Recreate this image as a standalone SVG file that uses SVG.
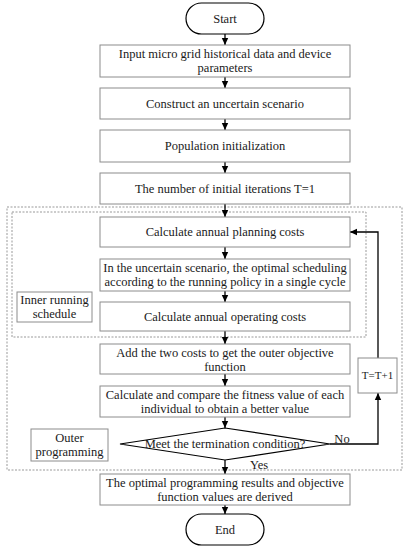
<svg xmlns="http://www.w3.org/2000/svg" width="408" height="550" viewBox="0 0 408 550">
<style>
.b{fill:#fff;stroke:#8c8c8c;stroke-width:1}
.t{fill:#fff;stroke:#000;stroke-width:1.2}
.d{fill:none;stroke:#999;stroke-width:1;stroke-dasharray:2,1.5}
.c{fill:none;stroke:#000;stroke-width:1.3}
text{font-family:"Liberation Serif","DejaVu Serif",serif;font-size:12.5px;fill:#1a1a1a;text-anchor:middle}
</style>
<defs>
<marker id="a" markerWidth="8" markerHeight="8" refX="7" refY="4" orient="auto" markerUnits="userSpaceOnUse">
<path d="M0,0.8 L7,4 L0,7.2 Z" fill="#000"/>
</marker>
</defs>
<rect class="d" x="7" y="207" width="395" height="263"/>
<rect class="d" x="12" y="212" width="354" height="125"/>
<g id="connectors">
<line class="c" x1="225" y1="34" x2="225" y2="45" marker-end="url(#a)"/>
<line class="c" x1="225" y1="77" x2="225" y2="88" marker-end="url(#a)"/>
<line class="c" x1="225" y1="119" x2="225" y2="130" marker-end="url(#a)"/>
<line class="c" x1="225" y1="162" x2="225" y2="173" marker-end="url(#a)"/>
<line class="c" x1="225" y1="204" x2="225" y2="217" marker-end="url(#a)"/>
<line class="c" x1="225" y1="247" x2="225" y2="259" marker-end="url(#a)"/>
<line class="c" x1="225" y1="291" x2="225" y2="302" marker-end="url(#a)"/>
<line class="c" x1="225" y1="331" x2="225" y2="344" marker-end="url(#a)"/>
<line class="c" x1="225" y1="374" x2="225" y2="386" marker-end="url(#a)"/>
<line class="c" x1="225" y1="417" x2="225" y2="428" marker-end="url(#a)"/>
<line class="c" x1="225" y1="460" x2="225" y2="474" marker-end="url(#a)"/>
<line class="c" x1="225" y1="505" x2="225" y2="514" marker-end="url(#a)"/>
<polyline class="c" points="330,444 378,444 378,393" marker-end="url(#a)"/>
<polyline class="c" points="378,358 378,232 350,232" marker-end="url(#a)"/>
<text x="342" y="443">No</text>
<text x="259" y="469">Yes</text>
</g>
<g id="start"><rect class="t" x="186" y="3" width="78" height="31" rx="15.5"/><text x="225" y="23">Start</text></g>
<g id="n1"><rect class="b" x="100" y="45" width="250" height="32"/><text x="225" y="58">Input micro grid historical data and device</text><text x="225" y="72">parameters</text></g>
<g id="n2"><rect class="b" x="100" y="88" width="250" height="31"/><text x="225" y="108">Construct an uncertain scenario</text></g>
<g id="n3"><rect class="b" x="100" y="130" width="250" height="32"/><text x="225" y="150">Population initialization</text></g>
<g id="n4"><rect class="b" x="100" y="173" width="250" height="31"/><text x="225" y="193">The number of initial iterations T=1</text></g>
<g id="n5"><rect class="b" x="100" y="217" width="250" height="30"/><text x="225" y="236">Calculate annual planning costs</text></g>
<g id="n6"><rect class="b" x="100" y="259" width="250" height="32"/><text x="225" y="272">In the uncertain scenario, the optimal scheduling</text><text x="225" y="286">according to the running policy in a single cycle</text></g>
<g id="n7"><rect class="b" x="100" y="302" width="250" height="29"/><text x="225" y="321">Calculate annual operating costs</text></g>
<g id="inner"><rect class="b" x="17" y="292" width="75" height="30"/><text x="54.5" y="304">Inner running</text><text x="54.5" y="318">schedule</text></g>
<g id="n8"><rect class="b" x="100" y="344" width="250" height="30"/><text x="225" y="357">Add the two costs to get the outer objective</text><text x="225" y="371">function</text></g>
<g id="n9"><rect class="b" x="100" y="386" width="250" height="31"/><text x="225" y="399">Calculate and compare the fitness value of each</text><text x="225" y="413">individual to obtain a better value</text></g>
<g id="tt"><rect class="b" x="358" y="358" width="39" height="35"/><text x="377.5" y="379" style="font-size:11px">T=T+1</text></g>
<g id="outer"><rect class="b" x="31" y="429" width="77" height="32"/><text x="69.5" y="442">Outer</text><text x="69.5" y="456">programming</text></g>
<g id="dec"><polygon class="t" points="120,444 225,428 330,444 225,460"/><text x="225" y="448">Meet the termination condition?</text></g>
<g id="n10"><rect class="b" x="100" y="474" width="250" height="31"/><text x="225" y="487">The optimal programming results and objective</text><text x="225" y="501">function values are derived</text></g>
<g id="end"><rect class="t" x="186" y="514" width="78" height="31" rx="15.5"/><text x="225" y="534">End</text></g>
</svg>
